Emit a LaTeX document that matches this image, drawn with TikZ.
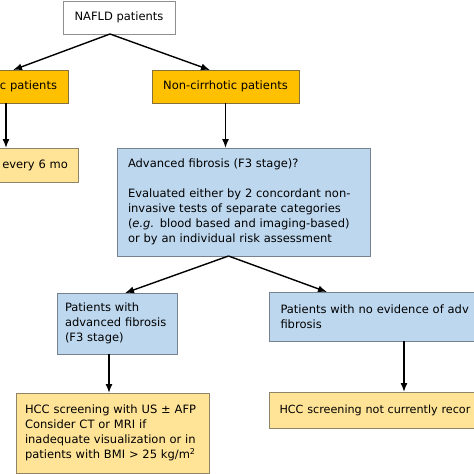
\documentclass[tikz,border=0pt]{standalone}
\usepackage{fontspec}
\setmainfont{DejaVu Sans}
\usetikzlibrary{arrows.meta,calc}
\definecolor{orangeF}{HTML}{FFC000}
\definecolor{orangeD}{HTML}{85703A}
\definecolor{yellowF}{HTML}{FFE497}
\definecolor{yellowD}{HTML}{8E8466}
\definecolor{blueF}{HTML}{BDD7EE}
\definecolor{blueD}{HTML}{76838F}
\definecolor{grayD}{HTML}{8F8F8F}
\tikzset{
  basebox/.style={draw, line width=0.9pt, inner ysep=0pt, outer sep=0pt, text=black},
  plainbox/.style={basebox, draw=grayD, fill=white},
  orangebox/.style={basebox, draw=orangeD, fill=orangeF},
  yellowbox/.style={basebox, draw=yellowD, fill=yellowF},
  bluebox/.style={basebox, draw=blueD, fill=blueF},
  arr/.style={draw=black, line width=1.4pt, -{Latex[length=9pt,width=7pt]}}
}
\begin{document}
\begin{tikzpicture}[x=1pt,y=-1pt,font=\fontsize{11.5}{15}\selectfont]
\useasboundingbox (0,0) rectangle (474,474);
\clip (0,0) rectangle (474,474);
\fill[white] (0,0) rectangle (474,474);

\node[plainbox, minimum width=112, minimum height=33] (nafld) at (119,17.5) {NAFLD patients};
\node[orangebox, anchor=east, inner xsep=11, text width=100, align=right, minimum height=33] (cirr) at (68,86.5) {c patients};
\node[orangebox, minimum width=147, minimum height=33] (noncirr) at (225.5,86.5) {Non-cirrhotic patients};
\node[yellowbox, anchor=east, inner xsep=10, text width=100, align=right, minimum height=34] (every) at (78,165) {every 6 mo};

\node[bluebox, anchor=north west, inner xsep=11, text width=231, minimum height=108, align=left] (adv) at (117,148)
{Advanced fibrosis (F3 stage)?\\[15pt]
\makebox[231pt][s]{Evaluated either by 2 concordant non-}\\
\makebox[231pt][s]{invasive tests of separate categories}\\
\makebox[231pt][s]{(\textit{e.g.} blood based and imaging-based)}\\
or by an individual risk assessment};

\node[bluebox, anchor=north west, inner xsep=8, text width=104, minimum height=61, align=left] (pat) at (57,293)
{Patients with\\advanced fibrosis\\(F3 stage)};

\node[bluebox, anchor=north west, inner xsep=11.5, text width=250, minimum height=49, align=left] (noev) at (269,292)
{\makebox[192pt][s]{Patients with no evidence of adv}\\fibrosis};

\node[yellowbox, anchor=north west, inner xsep=9, text width=175, minimum height=80, align=left] (hcc) at (16,393)
{HCC screening with US ± AFP\\Consider CT or MRI if\\inadequate visualization or in\\patients with BMI > 25 kg/m\textsuperscript{2}};

\node[yellowbox, anchor=north west, inner xsep=10.5, text width=260, minimum height=36, align=left, font=\fontsize{11.2}{15}\selectfont] (notrec) at (269,392)
{HCC screening not currently recor};

\draw[arr] ([xshift=-9]nafld.south) -- ([xshift=-55]cirr.north east);
\draw[arr] ([xshift=-9]nafld.south) -- ([xshift=-15.5]noncirr.north);
\draw[arr] ([xshift=-62]cirr.south east) -- ([xshift=-72]every.north east);
\draw[arr] (noncirr.south) -- (noncirr.south |- adv.north);
\draw[arr] ([xshift=-15]adv.south) -- ([xshift=8]pat.north);
\draw[arr] ([xshift=-15]adv.south) -- ([xshift=58]noev.north west);
\draw[arr] ([xshift=-8]pat.south) -- ([xshift=-8]pat.south |- hcc.north);
\draw[arr] ([xshift=135]noev.south west) -- ([xshift=135]noev.south west |- notrec.north);
\end{tikzpicture}
\end{document}
